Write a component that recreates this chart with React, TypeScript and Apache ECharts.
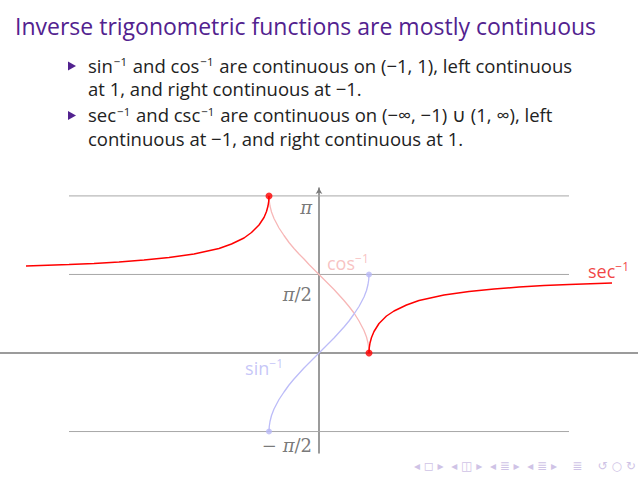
import React, { useEffect, useRef } from "react";
import * as echarts from "echarts";

// ---- data ----
const secLeftX = [-5.86, -5, -4.5, -4, -3.5, -3, -2.5, -2, -1.75, -1.5, -1.35, -1.2, -1.1, -1.05, -1.02, -1.005, -1];
const secLeftY = [1.74, 1.77, 1.79, 1.82, 1.86, 1.91, 1.98, 2.09, 2.18, 2.3, 2.41, 2.56, 2.71, 2.83, 2.94, 3.04, 3.14];
const secRightX = [1, 1.005, 1.02, 1.05, 1.1, 1.2, 1.35, 1.5, 1.75, 2, 2.5, 3, 3.5, 4, 4.5, 5, 5.86];
const secRightY = [0, 0.1, 0.2, 0.31, 0.43, 0.59, 0.74, 0.84, 0.96, 1.05, 1.16, 1.23, 1.28, 1.32, 1.35, 1.37, 1.4];
const trigX = [-1, -0.995, -0.98, -0.95, -0.9, -0.8, -0.7, -0.6, -0.5, -0.4, -0.3, -0.2, -0.1, 0, 0.1, 0.2, 0.3, 0.4, 0.5, 0.6, 0.7, 0.8, 0.9, 0.95, 0.98, 0.995, 1];
const asinY = [-1.57, -1.47, -1.37, -1.25, -1.12, -0.93, -0.78, -0.64, -0.52, -0.41, -0.3, -0.2, -0.1, 0, 0.1, 0.2, 0.3, 0.41, 0.52, 0.64, 0.78, 0.93, 1.12, 1.25, 1.37, 1.47, 1.57];
const acosY = [3.14, 3.04, 2.94, 2.82, 2.69, 2.5, 2.35, 2.21, 2.09, 1.98, 1.88, 1.77, 1.67, 1.57, 1.47, 1.37, 1.27, 1.16, 1.05, 0.93, 0.8, 0.64, 0.45, 0.32, 0.2, 0.1, 0];
const secDots = [[-1, 3.14], [1, 0]];
const asinDots = [[-1, -1.57], [1, 1.57]];
const gridLevels = [Math.PI, Math.PI / 2, -Math.PI / 2];
const gridXRange = [-5, 5];
const tickLabels = ["{p|π}", "{p|π}{m|/2}", "{m|− }{p|π}{m|/2}"];
const tickLabelDy = [12, 20, 14];
const funcLabels = [
  { name: "cos", pos: [0.16, 1.82], color: "#f6b3b3", side: "right" },
  { name: "sin", pos: [-0.72, -0.28], color: "#b8b8f6", side: "left" },
  { name: "sec", pos: [5.38, 1.66], color: "#ee1111", side: "right" },
];

const title = "Inverse trigonometric functions are mostly continuous";
const bulletLines = [
  "{t|sin}{s|−1}{t| and cos}{s|−1}{t| are continuous on (−1, 1), left continuous}",
  "{t|at 1, and right continuous at −1.}",
  "{t|sec}{s|−1}{t| and csc}{s|−1}{t| are continuous on (−∞, −1) ∪ (1, ∞), left}",
  "{t|continuous at −1, and right continuous at 1.}",
];
const bulletLineY = [65, 88, 114.5, 138];
const bulletMarks = [0, 2];

const FONT = "'Open Sans', Lato, sans-serif";
const PURPLE = "#52228f";

const zip = (xs: number[], ys: number[]) => xs.map((x, i) => [x, ys[i]]);

export default function App() {
  const ref = useRef<HTMLDivElement>(null);
  useEffect(() => {
    const chart = echarts.init(ref.current!, null, { renderer: "svg" });
    const rich = {
      t: { fontFamily: FONT, fontSize: 18.5, color: "#222", verticalAlign: "bottom", lineHeight: 19 },
      s: { fontFamily: FONT, fontSize: 11.5, color: "#222", verticalAlign: "top", lineHeight: 19, padding: [0, 1, 0, 1] },
    };
    const graphic: any[] = [
      {
        type: "text",
        left: 15,
        top: 14,
        style: { text: title, font: `23px ${FONT}`, fill: PURPLE },
      },
      ...bulletLines.map((line, i) => ({
        type: "text",
        x: 88,
        y: bulletLineY[i],
        style: { text: line, rich, verticalAlign: "middle", fill: "#222" },
      })),
      ...bulletMarks.map((li) => ({
        type: "polygon",
        shape: {
          points: [
            [68, bulletLineY[li] + 1 - 4.5],
            [76, bulletLineY[li] + 1],
            [68, bulletLineY[li] + 1 + 4.5],
          ],
        },
        style: { fill: PURPLE },
      })),
      {
        type: "text",
        x: 414,
        y: 466,
        style: {
          text: "◂ ◻ ▸  ◂ ◫ ▸  ◂ ≣ ▸  ◂ ≣ ▸    ≣    ↺ ○ ↻",
          font: `12px 'DejaVu Sans'`,
          fill: "#cfc3e6",
          verticalAlign: "middle",
        },
      },
    ];

    const lineBase = { type: "line", showSymbol: false, symbol: "none", silent: true };
    const series: any[] = [
      ...gridLevels.map((v) => ({
        ...lineBase,
        z: 1,
        data: gridXRange.map((x) => [x, v]),
        lineStyle: { color: "#a8a8a8", width: 1 },
      })),
      { ...lineBase, z: 3, data: zip(trigX, acosY), lineStyle: { color: "#f7b7b7", width: 1.3 } },
      { ...lineBase, z: 3, data: zip(trigX, asinY), lineStyle: { color: "#bcbcf8", width: 1.3 } },
      { ...lineBase, z: 4, data: zip(secLeftX, secLeftY), lineStyle: { color: "#ff0000", width: 1.5 } },
      { ...lineBase, z: 4, data: zip(secRightX, secRightY), lineStyle: { color: "#ff0000", width: 1.5 } },
      {
        type: "scatter",
        z: 5,
        data: asinDots,
        symbolSize: 6,
        itemStyle: { color: "#b8b8f6" },
      },
      {
        type: "scatter",
        z: 6,
        data: secDots,
        symbolSize: 7,
        itemStyle: { color: "#ff0000" },
      },
      {
        type: "scatter",
        z: 6,
        symbolSize: 0,
        data: gridLevels.map((v, i) => ({
          value: [0, v],
          name: tickLabels[i],
          label: { offset: [0, tickLabelDy[i]] },
        })),
        label: {
          show: true,
          position: "left",
          distance: 7,
          formatter: (p: any) => p.name,
          rich: {
            p: { fontFamily: "'DejaVu Serif', serif", fontStyle: "italic", fontSize: 18, color: "#555" },
            m: { fontFamily: "'DejaVu Serif', serif", fontSize: 18, color: "#555" },
          },
        },
      },
      ...funcLabels.map((f) => ({
        type: "scatter",
        z: 6,
        symbolSize: 0,
        data: [{ value: f.pos, name: f.name }],
        label: {
          show: true,
          position: f.side === "right" ? "right" : "left",
          distance: 0,
          formatter: (p: any) => `{a|${p.name}}{b|−1}`,
          rich: {
            a: { fontFamily: FONT, fontSize: 18, color: f.color, verticalAlign: "bottom", lineHeight: 20 },
            b: { fontFamily: FONT, fontSize: 12, color: f.color, verticalAlign: "top", lineHeight: 20 },
          },
        },
      })),
    ];

    chart.setOption({
      animation: false,
      grid: { left: 0, width: 638, top: 188, height: 265, containLabel: false },
      xAxis: {
        type: "value",
        min: -6.38,
        max: 6.38,
        axisLine: { show: true, onZero: true, lineStyle: { color: "#7a7a7a", width: 1.5 } },
        axisTick: { show: false },
        axisLabel: { show: false },
        splitLine: { show: false },
      },
      yAxis: {
        type: "value",
        min: -2,
        max: 3.3,
        axisLine: {
          show: true,
          onZero: true,
          symbol: ["none", "arrow"],
          symbolSize: [5, 6],
          lineStyle: { color: "#7a7a7a", width: 1.5 },
        },
        axisTick: { show: false },
        axisLabel: { show: false },
        splitLine: { show: false },
      },
      graphic,
      series,
    });
    return () => chart.dispose();
  }, []);
  return (
    <div
      ref={ref}
      style={{ position: "fixed", left: 0, top: 0, width: 638, height: 479, background: "#fff" }}
    />
  );
}
